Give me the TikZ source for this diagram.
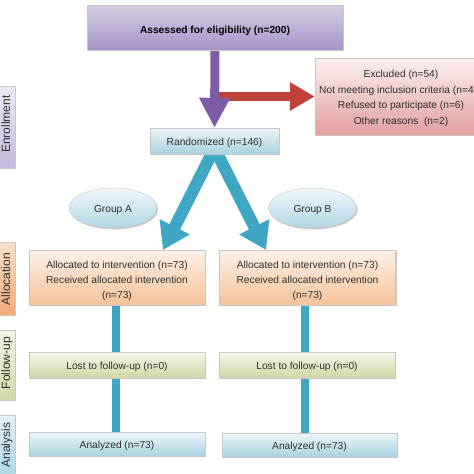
\documentclass[tikz,border=0pt]{standalone}
\usepackage{fontspec}
\setmainfont{Liberation Sans}
\usetikzlibrary{arrows.meta,shadows,backgrounds,shapes.geometric}
\definecolor{purpA}{HTML}{7D5BA6}
\definecolor{redA}{HTML}{C0403C}
\definecolor{tealA}{HTML}{3FA6C4}
\definecolor{txt}{HTML}{2E2E2E}
\begin{document}
\begin{tikzpicture}[x=1pt,y=-1pt,
  box/.style={draw=black!22, line width=0.4pt, inner sep=0pt,
    font=\fontsize{10.2}{14}\selectfont, text=txt, align=center,
    text height=10.5pt, text depth=1.5pt,
    drop shadow={shadow xshift=1.2pt, shadow yshift=-1.4pt, opacity=0.3, fill=black!70}},
  mltext/.style={inner sep=0pt, text=txt, align=center},
  bluebox/.style={box, top color={rgb,255:red,238;green,246;blue,249}, bottom color={rgb,255:red,168;green,210;blue,223}},
  orangebox/.style={box, top color={rgb,255:red,253;green,241;blue,232}, bottom color={rgb,255:red,245;green,194;blue,154}},
  greenbox/.style={box, top color={rgb,255:red,246;green,247;blue,234}, bottom color={rgb,255:red,206;green,215;blue,164}},
  redbox/.style={box, top color={rgb,255:red,251;green,240;blue,240}, bottom color={rgb,255:red,227;green,158;blue,158}},
  ellbox/.style={box, ellipse, top color={rgb,255:red,240;green,247;blue,250}, bottom color={rgb,255:red,176;green,214;blue,228}},
  sidetxt/.style={rotate=90, anchor=base, inner sep=0pt, font=\fontsize{12}{14}\selectfont, text=txt},
]
\useasboundingbox (0,0) rectangle (474,474);
\clip (0,0) rectangle (474,474);

% side labels
\node[box, minimum width=30pt, minimum height=82pt, top color={rgb,255:red,236;green,233;blue,243}, bottom color={rgb,255:red,196;green,184;blue,220}] (enrbox) at (0,127) {};
\node[sidetxt] (enrtxt) at (10,124) {Enrollment};
\node[box, minimum width=30pt, minimum height=73pt, top color={rgb,255:red,250;green,224;blue,204}, bottom color={rgb,255:red,240;green,170;blue,120}] (allbox) at (0,278.5) {};
\node[sidetxt] (alltxt) at (10,279) {Allocation};
\node[box, minimum width=30pt, minimum height=70pt, top color={rgb,255:red,244;green,246;blue,230}, bottom color={rgb,255:red,206;green,216;blue,168}] (folbox) at (0,365) {};
\node[sidetxt] (foltxt) at (10,363) {Follow-up};
\node[box, minimum width=30pt, minimum height=66pt, top color={rgb,255:red,230;green,242;blue,247}, bottom color={rgb,255:red,170;green,212;blue,228}] (anabox) at (0,448) {};
\node[sidetxt] (anatxt) at (10,445) {Analysis};

% main boxes
\node[box, minimum width=256pt, minimum height=45pt, text height=13pt, text depth=1pt,
  top color={rgb,255:red,214;green,206;blue,228}, middle color={rgb,255:red,232;green,228;blue,240}, bottom color={rgb,255:red,164;green,146;blue,198},
  font=\bfseries\fontsize{10.2}{14}\selectfont, text=black] (assess) at (215,27.5) {Assessed for eligibility (n=200)};
\node[redbox, minimum width=172pt, minimum height=77pt] (excl) at (401,96.5) {};
\node[mltext, font=\fontsize{10.2}{15.5}\selectfont] (excltxt) at (401,98.3)
  {Excluded (n=54)\\Not meeting inclusion criteria (n=46)\\Refused to participate (n=6)\\Other reasons\ \ (n=2)};
\node[bluebox, minimum width=129pt, minimum height=26pt] (rand) at (214.5,141) {Randomized (n=146)};
\node[ellbox, minimum width=88pt, minimum height=40pt] (gA) at (113,208) {Group A};
\node[ellbox, minimum width=88pt, minimum height=40pt] (gB) at (312.5,208) {Group B};
\node[orangebox, minimum width=176pt, minimum height=55pt] (allocA) at (117,277.5) {};
\node[mltext, font=\fontsize{10.2}{15}\selectfont] (allocAtxt) at (117,281)
  {Allocated to intervention (n=73)\\Received allocated intervention\\(n=73)};
\node[orangebox, minimum width=176pt, minimum height=55pt] (allocB) at (307.5,277.5) {};
\node[mltext, font=\fontsize{10.2}{15}\selectfont] (allocBtxt) at (307.5,281)
  {Allocated to intervention (n=73)\\Received allocated intervention\\(n=73)};
\node[greenbox, minimum width=176pt, minimum height=26pt] (lostA) at (117,365) {Lost to follow-up (n=0)};
\node[greenbox, minimum width=176pt, minimum height=26pt] (lostB) at (307,365) {Lost to follow-up (n=0)};
\node[bluebox, minimum width=176pt, minimum height=24pt] (anA) at (117,444) {Analyzed (n=73)};
\node[bluebox, minimum width=175pt, minimum height=24pt] (anB) at (309.5,445) {Analyzed (n=73)};

\coordinate (rs) at (219,96.5);
\coordinate (tipA) at (163,250);
\coordinate (tipB) at (266,250);

\begin{scope}[on background layer]
  \draw[line width=8.5pt, tealA] ([xshift=-1pt]allocA.south) -- ([xshift=-1pt]lostA.north);
  \draw[line width=8.5pt, tealA] ([xshift=-1pt]lostA.south) -- ([xshift=-1pt]anA.north);
  \draw[line width=8.5pt, tealA] ([xshift=-2.5pt]allocB.south) -- ([xshift=-2pt]lostB.north);
  \draw[line width=8.5pt, tealA] ([xshift=-2pt]lostB.south) -- ([xshift=-4.5pt]anB.north);
  \draw[line width=12pt, tealA, -{Triangle[width=32pt,length=26pt]}] ([yshift=6pt]rand.south) -- (tipA);
  \draw[line width=12pt, tealA, -{Triangle[width=32pt,length=26pt]}] ([yshift=6pt]rand.south) -- (tipB);
  \draw[line width=8.5pt, redA, -{Triangle[width=27pt,length=25pt]}] (rs) -- (excl.west);
  \draw[line width=9pt, purpA, -{Triangle[width=29pt,length=30pt]}] (assess.south) -- (rand.north);
\end{scope}
\end{tikzpicture}
\end{document}
